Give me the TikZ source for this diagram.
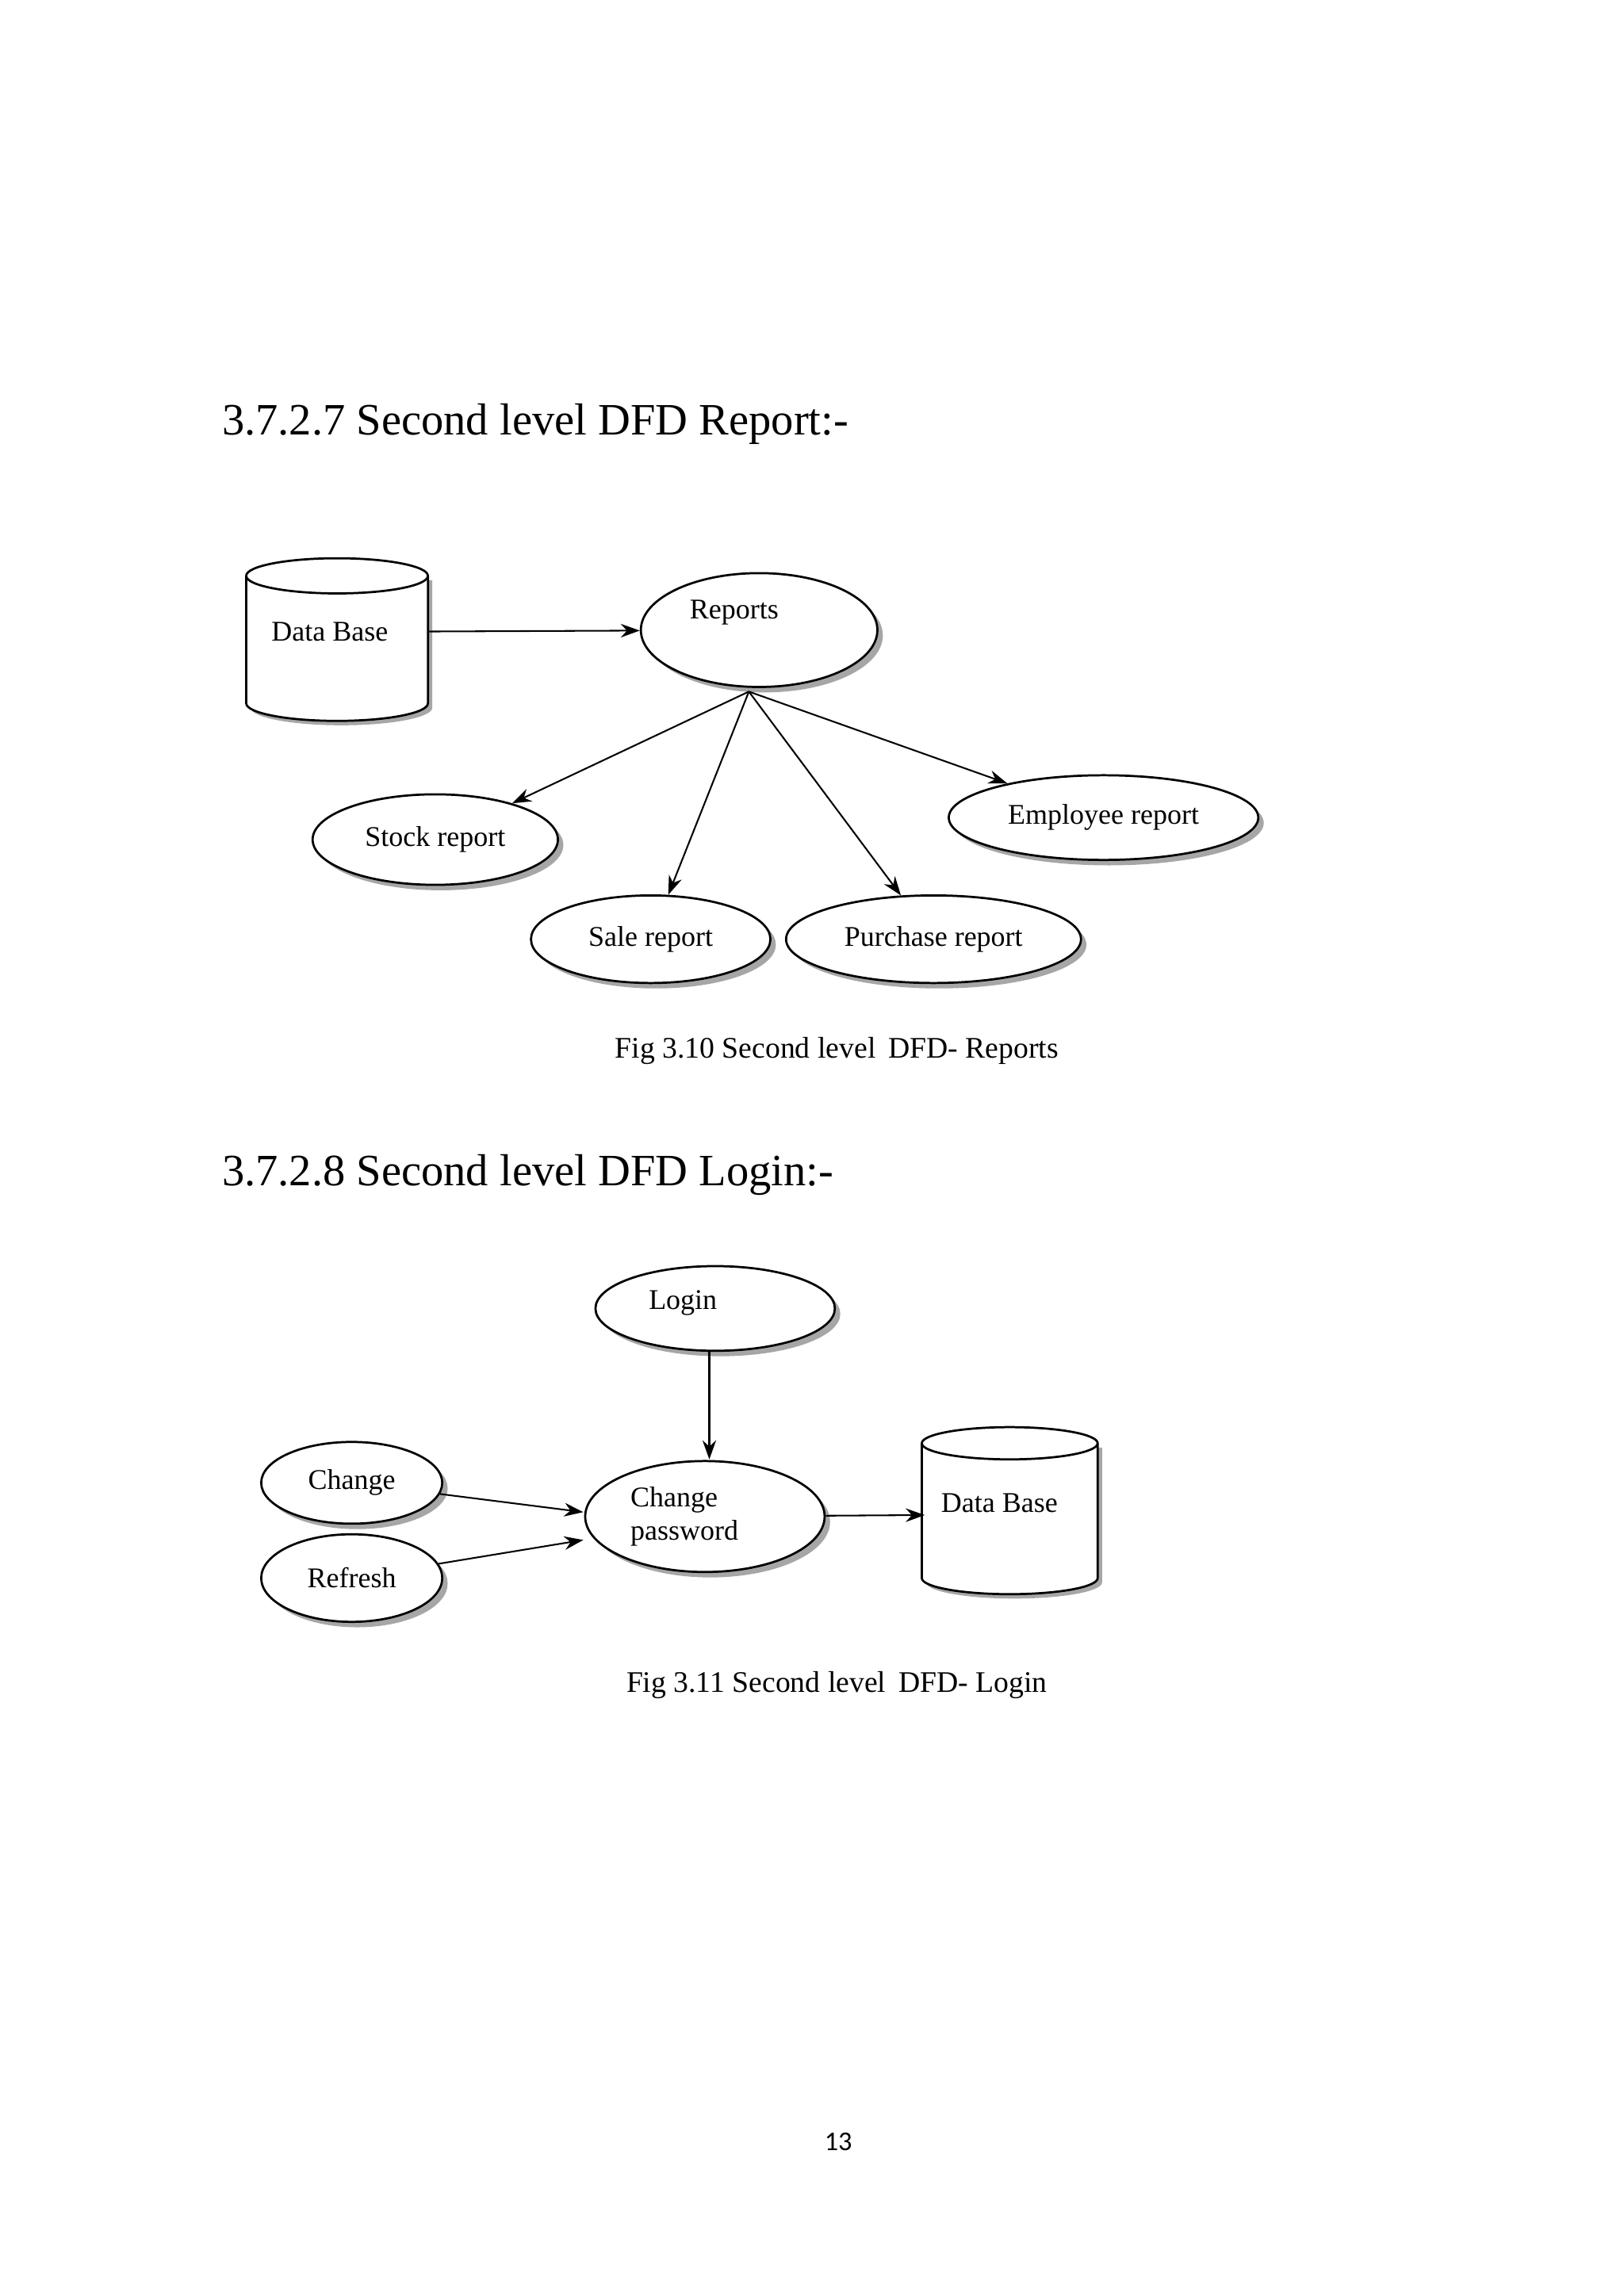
\documentclass[tikz,border=0pt]{standalone}
\usepackage{fontspec}
\setmainfont{Liberation Serif}
\newfontfamily\pgnum{Carlito}
\usetikzlibrary{shadows,arrows.meta,shapes.geometric}
\begin{document}
\begin{tikzpicture}[x=0.01895cm,y=-0.01895cm,
  proc/.style={draw,thick,ellipse,fill=white,inner sep=0,drop shadow={shadow xshift=2pt,shadow yshift=-2pt,fill=gray!70,opacity=1}},
  sz/.style 2 args={minimum width=0.5372*#1pt,minimum height=0.5372*#2pt},
  lbl/.style={font=\fontsize{10.5}{12}\selectfont},
  flow/.style={-{Stealth[length=7pt,width=5pt]},semithick},
  head/.style={font=\fontsize{16.5}{20}\selectfont,anchor=base west},
  figcap/.style={font=\fontsize{11}{13}\selectfont}]
\fill[white] (0,0) rectangle (1108,1567);
\useasboundingbox (0,0) rectangle (1108,1567);
\node[head] (h1) at (145,297) {3.7.2.7 Second level DFD Report:-};
\node[head] (h2) at (145,809) {3.7.2.8 Second level DFD Login:-};
% DB 1
\fill[gray!70] (171,396) -- (171,483) arc[start angle=180,end angle=0,x radius=62,y radius=12] -- (295,396) -- cycle;
\filldraw[thick,fill=white] (168,393) -- (168,480) arc[start angle=180,end angle=0,x radius=62,y radius=12] -- (292,393) arc[start angle=0,end angle=-180,x radius=62,y radius=12] -- cycle;
\draw[thick] (168,393) arc[start angle=180,end angle=0,x radius=62,y radius=12];
\node[font=\fontsize{10.5}{13}\selectfont] (db1) at (225,431) {Data Base};
\coordinate (db1e) at (292,431);
\node[proc,sz={162}{78}] (rep) at (518,430) {};
\node[lbl] at (501,418) {Reports};
\node[proc,sz={168}{62},lbl] (st) at (297,573) {Stock report};
\node[proc,sz={164}{60},lbl] (sa) at (444,641) {Sale report};
\node[proc,sz={202}{60},lbl] (pu) at (637,641) {Purchase report};
\node[proc,sz={212}{58},lbl] (em) at (753,558) {Employee report};
\draw[flow] (db1e) -- (rep);
\coordinate (rb) at (511,472);
\draw[flow] (rb) -- (st);
\draw[flow] (rb) -- (sa);
\draw[flow] (rb) -- (pu);
\draw[flow] (rb) -- (em);
\node[figcap] (c1) at (571,717) {Fig 3.10 Second level\, DFD- Reports};
% login
\node[proc,sz={164}{58}] (lg) at (488,893) {};
\node[lbl] at (466,889) {Login};
\node[proc,sz={164}{76}] (cp) at (481,1035) {};
\node[lbl,align=left] at (467,1035) {Change\\password};
\node[proc,sz={124}{56},lbl] (ch) at (240,1012) {Change};
\node[proc,sz={124}{60},lbl] (rf) at (240,1077) {Refresh};
\fill[gray!70] (632,988) -- (632,1080) arc[start angle=180,end angle=0,x radius=60,y radius=11] -- (752,988) -- cycle;
\filldraw[thick,fill=white] (629,985) -- (629,1077) arc[start angle=180,end angle=0,x radius=60,y radius=11] -- (749,985) arc[start angle=0,end angle=-180,x radius=60,y radius=11] -- cycle;
\draw[thick] (629,985) arc[start angle=180,end angle=0,x radius=60,y radius=11];
\node[font=\fontsize{10.5}{13}\selectfont] (db2) at (682,1026) {Data Base};
\coordinate (db2w) at (631,1034);
\coordinate (lgb) at (484,922);
\coordinate (cpt) at (484,996);
\draw[flow] (lgb) -- (cpt);
\coordinate (cpl1) at (398,1032);
\coordinate (cpl2) at (398,1051);
\draw[flow] (ch) -- (cpl1);
\draw[flow] (rf) -- (cpl2);
\draw[flow] (cp) -- (db2w);
\node[figcap] (c2) at (571,1150) {Fig 3.11 Second level\, DFD- Login};
\node[font=\pgnum\fontsize{10}{12}\selectfont] (pg) at (572,1462) {13};
\end{tikzpicture}
\end{document}
